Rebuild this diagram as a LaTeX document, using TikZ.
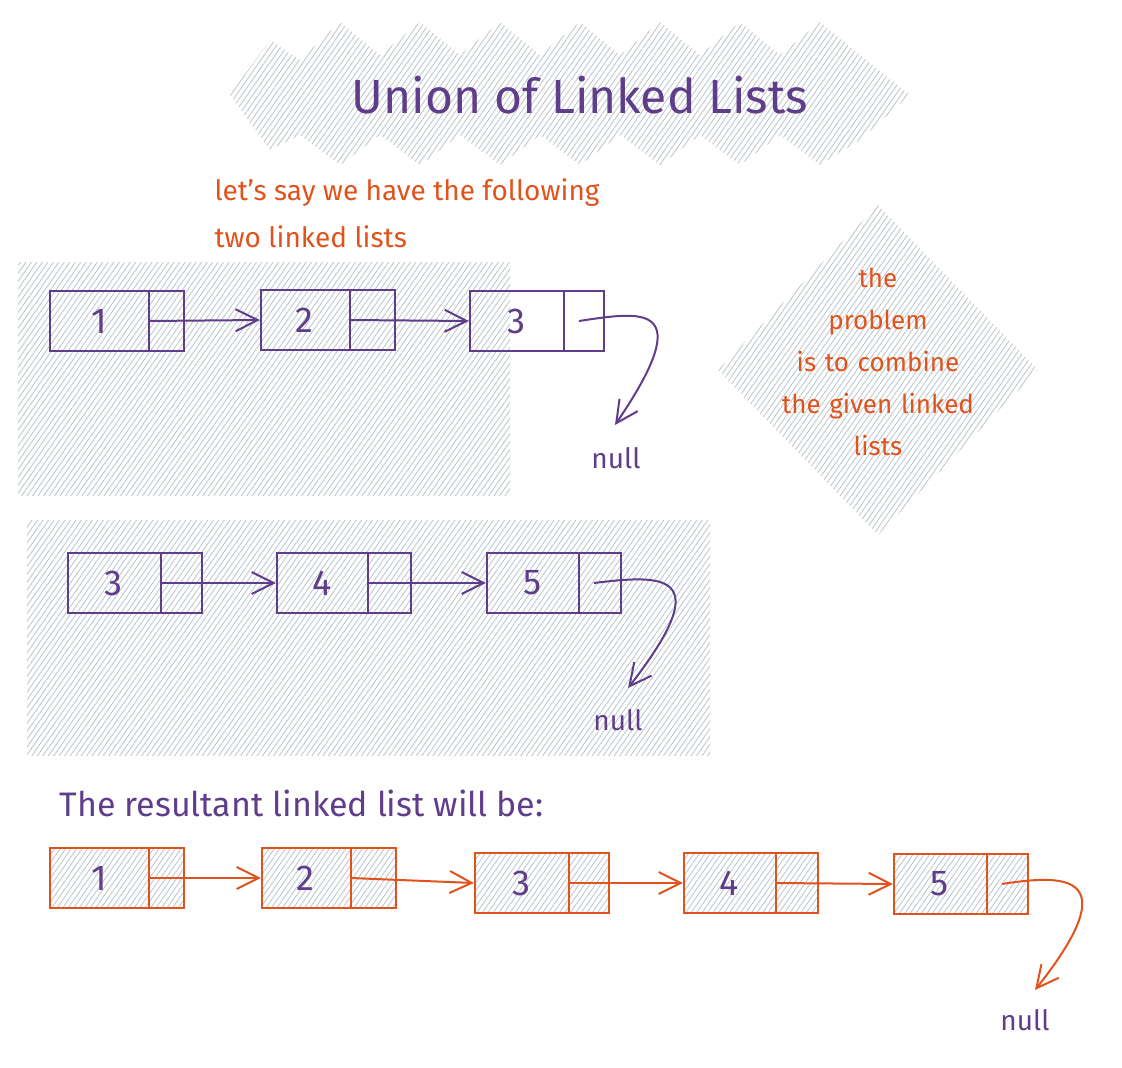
\documentclass[tikz,border=0pt]{standalone}
\usepackage{fontspec}
\setmainfont{Fira Sans}
\usetikzlibrary{patterns.meta,arrows.meta}
\definecolor{pur}{HTML}{5F3D8A}
\definecolor{org}{HTML}{E0531C}
\definecolor{hatch}{HTML}{B9C3C8}
\tikzset{
 hat/.style={pattern={Lines[angle=55,distance=4.5pt,line width=0.8pt]},pattern color=hatch},
 cell/.style={draw=#1,line width=2.2pt,minimum width=134pt,minimum height=60pt,inner sep=0},
 lnk/.style={draw=#1,line width=2pt,-{Straight Barb[length=22pt,width=22pt,line width=2pt]}},
 val/.style={text=#1,font=\fontsize{36}{36}\selectfont},
 ntxt/.style={font=\fontsize{28}{28}\selectfont},
}
% name, cx, cy, label, boxcolor, textcolor, divider offset from left
\newcommand\mycell[7]{%
 \node[cell=#5] (#1) at (#2,#3) {};
 \draw[#5,line width=2.2pt] ([xshift=#7pt]#1.north west) -- ([xshift=#7pt]#1.south west);
 \coordinate (#1d) at ([xshift=#7pt]#1.west);
 \node[val=#6] (#1v) at ([xshift=#7pt/2]#1.west) {#4};
}
\begin{document}
\begin{tikzpicture}[x=1pt,y=-1pt]
\useasboundingbox (0,0) rectangle (1122,1068);
% title background
\path[hat] (230,95) -- (270,40) -- (300,60) -- (340,22) -- (380,55) -- (420,22) -- (460,55) -- (500,22) -- (540,55) -- (580,22) -- (620,55) -- (660,22) -- (700,55) -- (740,22) -- (780,55) -- (820,22) -- (860,55) -- (910,95) -- (860,140) -- (820,165) -- (780,135) -- (740,165) -- (700,135) -- (660,165) -- (620,135) -- (580,165) -- (540,135) -- (500,165) -- (460,135) -- (420,165) -- (380,135) -- (340,165) -- (300,135) -- (270,150) -- cycle;
\node[text=pur,font=\fontsize{48}{48}\selectfont] (title) at (580,95) {Union of Linked Lists};
\node[text=org,ntxt,anchor=west] (t1) at (211,193) {let's say we have the following};
\node[text=org,ntxt,anchor=west] (t2) at (211,237) {two linked lists};
% panels
\path[hat] (18,262) rectangle (510,495);
\path[hat] (27,520) rectangle (710,755);
\path[hat] (878,205) -- (1038,370) -- (878,535) -- (718,370) -- cycle;
\node[text=org,ntxt,align=center,text width=240pt,font=\fontsize{26}{26}\selectfont] (prob) at (878,362) {the\\[16pt]problem\\[16pt]is to combine\\[16pt]the given linked\\[16pt]lists};
% list 1
\mycell{a1}{117}{321}{1}{pur}{pur}{100}
\mycell{a2}{328}{320}{2}{pur}{pur}{90}
\mycell{a3}{537}{321}{3}{pur}{pur}{95}
\draw[lnk=pur] (a1d) -- (a2.west);
\draw[lnk=pur] (a2d) -- (a3.west);
\node[text=pur,ntxt] (n1) at (616,458) {null};
\draw[lnk=pur] (a3d) ++(15,0) .. controls (640,312) and (700,300) .. (615,425);
% list 2
\mycell{b1}{135}{583}{3}{pur}{pur}{94}
\mycell{b2}{344}{583}{4}{pur}{pur}{92}
\mycell{b3}{554}{583}{5}{pur}{pur}{93}
\draw[lnk=pur] (b1d) -- (b2.west);
\draw[lnk=pur] (b2d) -- (b3.west);
\node[text=pur,ntxt] (n2) at (618,720) {null};
\draw[lnk=pur] (b3d) ++(15,0) .. controls (660,575) and (720,570) .. (628,688);
% result
\node[text=pur,font=\fontsize{34}{34}\selectfont,anchor=west] (res) at (56,803) {The resultant linked list will be:};
\foreach \n/\x/\y in {c1/117/878,c2/329/878,c3/542/883,c4/751/883,c5/961/884}{\path[hat] (\x-67,\y-30) rectangle (\x+67,\y+30);}
\mycell{c1}{117}{878}{1}{org}{pur}{100}
\mycell{c2}{329}{878}{2}{org}{pur}{90}
\mycell{c3}{542}{883}{3}{org}{pur}{95}
\mycell{c4}{751}{883}{4}{org}{pur}{93}
\mycell{c5}{961}{884}{5}{org}{pur}{94}
\draw[lnk=org] (c1d) -- (c2.west);
\draw[lnk=org] (c2d) -- (c3.west);
\draw[lnk=org] (c3d) -- (c4.west);
\draw[lnk=org] (c4d) -- (c5.west);
\node[text=pur,ntxt] (n3) at (1025,1020) {null};
\draw[lnk=org] (c5d) ++(15,0) .. controls (1060,875) and (1130,870) .. (1035,990);
\end{tikzpicture}
\end{document}
